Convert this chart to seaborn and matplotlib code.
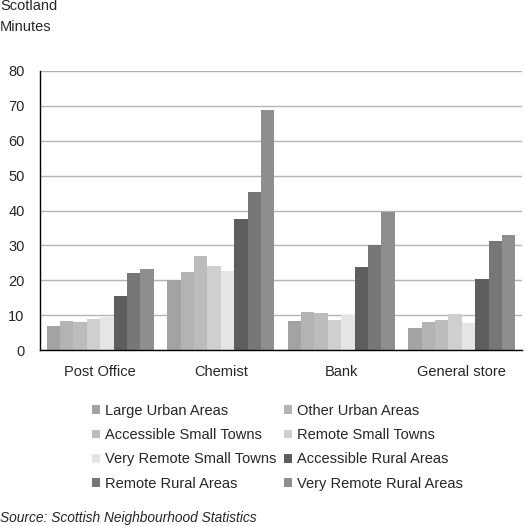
import seaborn as sns
import matplotlib.pyplot as plt
import pandas as pd

# Access times to services by urban/rural class (minutes)
services = ['Post Office', 'Chemist', 'Bank', 'General store']
areas = ['Large Urban Areas', 'Other Urban Areas', 'Accessible Small Towns',
         'Remote Small Towns', 'Very Remote Small Towns', 'Accessible Rural Areas',
         'Remote Rural Areas', 'Very Remote Rural Areas']
post_office = [6.9, 8.3, 7.9, 8.9, 9.5, 15.5, 22.1, 23.2]
chemist = [20.0, 22.4, 27.0, 24.1, 22.7, 37.6, 45.3, 68.9]
bank = [8.3, 10.9, 10.6, 8.6, 9.9, 23.8, 30.1, 39.7]
general_store = [6.3, 8.0, 8.6, 10.3, 7.7, 20.4, 31.2, 32.9]
greys = ['#a3a3a3', '#b3b3b3', '#bcbcbc', '#cfcfcf', '#e5e5e5',
         '#5e5e5e', '#777777', '#8e8e8e']

rows = []
for svc, vals in zip(services, [post_office, chemist, bank, general_store]):
    for area, v in zip(areas, vals):
        rows.append({'service': svc, 'area': area, 'minutes': v})
df = pd.DataFrame(rows)

sns.set_style('white')
plt.rcParams['font.family'] = ['Liberation Sans', 'DejaVu Sans']
fs = 10.5

fig = plt.figure(figsize=(5.26, 5.26), dpi=100)
ax = fig.add_axes([40 / 526, 1 - 350 / 526, 482 / 526, 279 / 526])

sns.barplot(data=df, x='service', y='minutes', hue='area', hue_order=areas,
            palette=greys, width=0.89, gap=0, saturation=1, linewidth=0, ax=ax)

ax.set_ylim(0, 80)
ax.set_yticks(range(0, 81, 10))
ax.set_xlim(-0.5, 3.5)
ax.yaxis.grid(True, color='#b4b4b4', linewidth=1)
ax.set_axisbelow(True)
ax.set_xlabel('')
ax.set_ylabel('')
for s in ['top', 'right']:
    ax.spines[s].set_visible(False)
for s in ['left', 'bottom']:
    ax.spines[s].set_color('black')
    ax.spines[s].set_linewidth(1)

# category boundary ticks on the x axis
ax.set_xticks([-0.5, 0.5, 1.5, 2.5, 3.5], minor=False)
ax.set_xticklabels([])
ax.set_xticks([0, 1, 2, 3], minor=True)
ax.set_xticklabels(services, minor=True)
ax.tick_params(axis='x', which='major', direction='out', length=5, color='black', width=1)
ax.tick_params(axis='x', which='minor', length=0, pad=11, labelsize=fs)
ax.tick_params(axis='y', direction='out', length=5, color='black', width=1, labelsize=fs, pad=6)

handles, labels = ax.get_legend_handles_labels()
ax.get_legend().remove()
order = [0, 2, 4, 6, 1, 3, 5, 7]
fig.legend([handles[i] for i in order], [labels[i] for i in order],
           ncol=2, loc='upper left', bbox_to_anchor=(92 / 526, 1 - 404 / 526),
           frameon=False, fontsize=fs, handlelength=0.55, handleheight=0.55,
           handletextpad=0.35, labelspacing=0.7, columnspacing=0.5,
           borderpad=0, borderaxespad=0)

fig.text(0.0, 1 - 6 / 526, 'Scotland', fontsize=fs, va='center', ha='left')
fig.text(0.0, 1 - 27 / 526, 'Minutes', fontsize=fs, va='center', ha='left')
fig.text(0.0, 1 - 518 / 526, 'Source: Scottish Neighbourhood Statistics',
         fontsize=9.9, style='italic', va='center', ha='left')

fig.savefig('out.png', dpi=100)
